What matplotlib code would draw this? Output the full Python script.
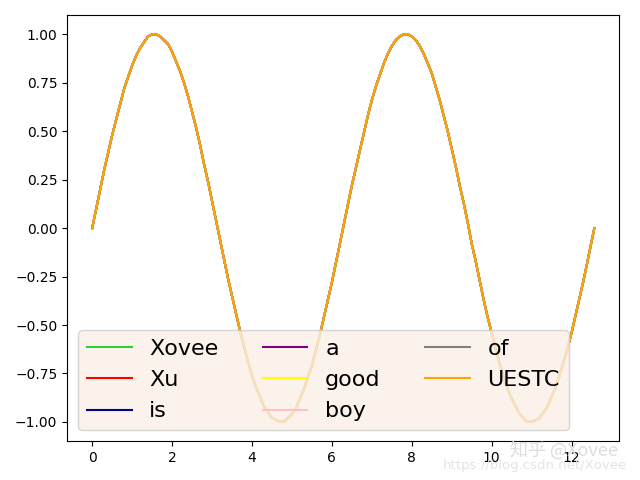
import matplotlib
matplotlib.use('Agg')
import matplotlib.pyplot as plt

x = [0.0, 0.1, 0.2, 0.3, 0.4, 0.5, 0.6, 0.7, 0.8, 0.9,
     1.0, 1.1, 1.2, 1.3, 1.4, 1.5, 1.6, 1.7, 1.8, 1.9,
     2.0, 2.1, 2.2, 2.3, 2.4, 2.5, 2.6, 2.7, 2.8, 2.9,
     3.0, 3.1, 3.2, 3.3, 3.4, 3.5, 3.6, 3.7, 3.8, 3.9,
     4.0, 4.1, 4.2, 4.3, 4.4, 4.5, 4.6, 4.7, 4.8, 4.9,
     5.0, 5.1, 5.2, 5.3, 5.4, 5.5, 5.6, 5.7, 5.8, 5.9,
     6.0, 6.1, 6.2, 6.3, 6.4, 6.5, 6.6, 6.7, 6.8, 6.9,
     7.0, 7.1, 7.2, 7.3, 7.4, 7.5, 7.6, 7.7, 7.8, 7.9,
     8.0, 8.1, 8.2, 8.3, 8.4, 8.5, 8.6, 8.7, 8.8, 8.9,
     9.0, 9.1, 9.2, 9.3, 9.4, 9.5, 9.6, 9.7, 9.8, 9.9,
     10.0, 10.1, 10.2, 10.3, 10.4, 10.5, 10.6, 10.7, 10.8, 10.9,
     11.0, 11.1, 11.2, 11.3, 11.4, 11.5, 11.6, 11.7, 11.8, 11.9,
     12.0, 12.1, 12.2, 12.3, 12.4, 12.5, 12.57]
y = [0.00, 0.10, 0.20, 0.30, 0.39, 0.48, 0.56, 0.64, 0.72, 0.78,
     0.84, 0.89, 0.93, 0.96, 0.99, 1.00, 1.00, 0.99, 0.97, 0.95,
     0.91, 0.86, 0.81, 0.75, 0.68, 0.60, 0.52, 0.43, 0.33, 0.24,
     0.14, 0.04, -0.06, -0.16, -0.26, -0.35, -0.44, -0.53, -0.61, -0.69,
     -0.76, -0.82, -0.87, -0.92, -0.95, -0.98, -0.99, -1.00, -1.00, -0.98,
     -0.96, -0.93, -0.88, -0.83, -0.77, -0.71, -0.63, -0.55, -0.46, -0.37,
     -0.28, -0.18, -0.08, 0.02, 0.12, 0.22, 0.31, 0.40, 0.49, 0.58,
     0.66, 0.73, 0.79, 0.85, 0.90, 0.94, 0.97, 0.99, 1.00, 1.00,
     0.99, 0.97, 0.94, 0.90, 0.85, 0.80, 0.73, 0.66, 0.58, 0.50,
     0.41, 0.32, 0.22, 0.13, 0.03, -0.08, -0.17, -0.27, -0.37, -0.46,
     -0.54, -0.62, -0.70, -0.77, -0.83, -0.88, -0.92, -0.96, -0.98, -1.00,
     -1.00, -0.99, -0.98, -0.95, -0.92, -0.87, -0.82, -0.76, -0.69, -0.62,
     -0.54, -0.45, -0.36, -0.27, -0.17, -0.07, 0.00]

labels = ['Xovee', 'Xu', 'is', 'a', 'good', 'boy', 'of', 'UESTC']
colors = ['limegreen', 'red', 'darkblue', 'purple', 'yellow', 'pink', 'grey', 'orange']

fig, ax = plt.subplots(figsize=(6.4, 4.8), dpi=100)

for lab, c in zip(labels, colors):
    ax.plot(x, y, color=c, label=lab)

ax.legend(loc='lower left', ncol=3, fontsize=16, facecolor='linen')

fig.tight_layout()

# watermark
fig.text(0.797, 0.05, '知乎 @Xovee', fontsize=13, color='#dddddd',
         family=['Noto Sans CJK SC', 'DejaVu Sans'])
fig.text(0.692, 0.022, 'https://blog.csdn.net/Xovee', fontsize=9.5, color='#e4e4e4')

fig.savefig('out.png')
